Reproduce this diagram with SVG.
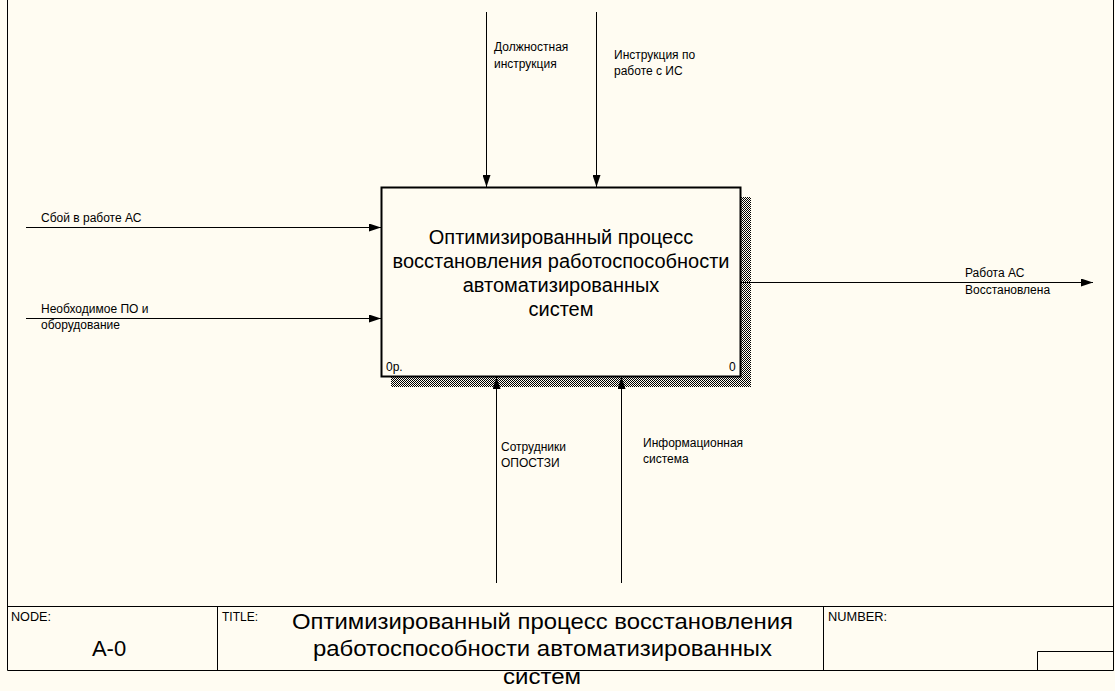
<svg xmlns="http://www.w3.org/2000/svg" width="1115" height="691" viewBox="0 0 1115 691">
<defs>
<pattern id="dots" width="2" height="2" patternUnits="userSpaceOnUse"><rect width="2" height="2" fill="#fffcf2"/><rect width="1" height="1" fill="#000"/><rect x="1" y="1" width="1" height="1" fill="#000"/></pattern>
<marker id="ar" markerWidth="12" markerHeight="8" refX="12" refY="4" orient="auto" markerUnits="userSpaceOnUse"><path d="M0,0 L12,4 L0,8 Z" fill="#000"/></marker>
</defs>
<style>
.t{font-family:"Liberation Sans",Arial,sans-serif;font-size:12px;fill:#000}
.b{font-family:"Liberation Sans",Arial,sans-serif;font-size:20px;fill:#000;text-anchor:middle}
.l{stroke:#000;stroke-width:1;fill:none}
.s{font-family:"Liberation Sans",Arial,sans-serif;font-size:12px;fill:#000}
</style>
<rect width="1115" height="691" fill="#fffcf2"/>
<g id="frame">
<path class="l" d="M7.5,0 V670.5 H1113.5 V0 M7.5,606.5 H1113.5 M217.5,606.5 V670.5 M823.5,606.5 V670.5 M1037.5,670.5 V651.5 H1113.5"/>
<text x="11" y="621" class="s" textLength="40" lengthAdjust="spacingAndGlyphs">NODE:</text>
<text x="222" y="621" class="s" textLength="36" lengthAdjust="spacingAndGlyphs">TITLE:</text>
<text x="828" y="621" class="s" textLength="59" lengthAdjust="spacingAndGlyphs">NUMBER:</text>
<text x="109" y="656" font-family="Liberation Sans,sans-serif" font-size="22" text-anchor="middle">А-0</text>
<text x="292" y="629" font-family="Liberation Sans,sans-serif" font-size="22" textLength="501" lengthAdjust="spacingAndGlyphs">Оптимизированный процесс восстановления</text>
<text x="313" y="656" font-family="Liberation Sans,sans-serif" font-size="22" textLength="459" lengthAdjust="spacingAndGlyphs">работоспособности автоматизированных</text>
<text x="503" y="684" font-family="Liberation Sans,sans-serif" font-size="22" textLength="78" lengthAdjust="spacingAndGlyphs">систем</text>
</g>
<g id="node0">
<rect x="741" y="197" width="10" height="190" fill="url(#dots)"/>
<rect x="391" y="377" width="360" height="10" fill="url(#dots)"/>
<rect x="381.5" y="187.5" width="359" height="189" fill="#fffcf2" stroke="#000" stroke-width="2"/>
<text class="b" x="561" y="244">Оптимизированный процесс</text>
<text class="b" x="561" y="268">восстановления работоспособности</text>
<text class="b" x="561" y="292">автоматизированных</text>
<text class="b" x="561" y="316">систем</text>
<text class="t" x="386" y="371">0р.</text>
<text class="t" x="729" y="371">0</text>
</g>
<g id="connectors">
<line class="l" x1="26" y1="227.5" x2="381" y2="227.5" marker-end="url(#ar)"/>
<line class="l" x1="26" y1="318.5" x2="381" y2="318.5" marker-end="url(#ar)"/>
<line class="l" x1="486.5" y1="12" x2="486.5" y2="187" marker-end="url(#ar)"/>
<line class="l" x1="596.5" y1="12" x2="596.5" y2="187" marker-end="url(#ar)"/>
<line class="l" x1="496.5" y1="583" x2="496.5" y2="377" marker-end="url(#ar)"/>
<line class="l" x1="621.5" y1="583" x2="621.5" y2="377" marker-end="url(#ar)"/>
<line class="l" x1="741" y1="282.5" x2="1093" y2="282.5" marker-end="url(#ar)"/>
<text class="t" x="41" y="222">Сбой в работе АС</text>
<text class="t" x="41" y="313">Необходимое ПО и</text>
<text class="t" x="41" y="329">оборудование</text>
<text class="t" x="494" y="51">Должностная</text>
<text class="t" x="494" y="68">инструкция</text>
<text class="t" x="614" y="59">Инструкция по</text>
<text class="t" x="614" y="75">работе с ИС</text>
<text class="t" x="501" y="451">Сотрудники</text>
<text class="t" x="501" y="467">ОПОСТЗИ</text>
<text class="t" x="643" y="447">Информационная</text>
<text class="t" x="643" y="463">система</text>
<text class="t" x="965" y="277">Работа АС</text>
<text class="t" x="965" y="294">Восстановлена</text>
</g>
</svg>
